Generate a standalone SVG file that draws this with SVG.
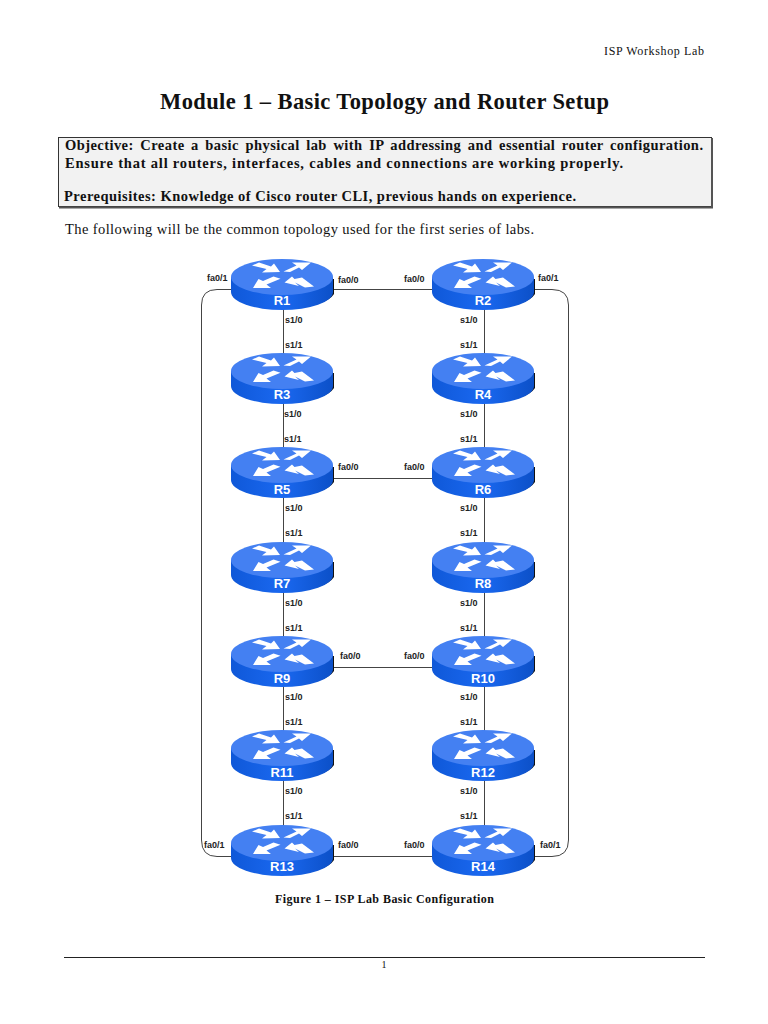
<svg xmlns="http://www.w3.org/2000/svg" width="768" height="1024" viewBox="0 0 768 1024">
<style>
.s{font-family:"Liberation Serif",serif;fill:#111}
.b{font-weight:bold}
.l{font-family:"Liberation Sans",Arial,sans-serif;font-size:9px;font-weight:bold;fill:#222}
.n{font-family:"Liberation Sans",Arial,sans-serif;font-size:13px;font-weight:bold;fill:#fff;text-anchor:middle}
.c{fill:none;stroke:#444;stroke-width:1}
</style>
<defs>
<linearGradient id="side" x1="0" y1="0" x2="1" y2="0"><stop offset="0" stop-color="#0f58d8"/><stop offset=".5" stop-color="#1a68f0"/><stop offset="1" stop-color="#0c50c8"/></linearGradient>
<g id="router">
<path d="M-48,2 V17 A51,18 0 0 0 52,17 V2 Z" fill="#111"/>
<path d="M-51,0 V15 A51,18 0 0 0 51,15 V0 Z" fill="url(#side)"/>
<ellipse cx="0" cy="0" rx="51" ry="18" fill="#4480f2"/>
<g fill="#fff">
<polygon points="-30,-11.500 -23,-14.500 -11,-10.500 -8,-13.500 -2,-5 -20,-4.500 -15.500,-8"/>
<polygon points="1.500,-5.500 8,-5 17,-9.500 20,-7 29,-14.500 10,-14.500 14.500,-11.500"/>
<polygon points="-29,11 -11,11 -15.500,7.500 -1.500,1.700 -8.500,-0.500 -19,4 -23.500,2"/>
<polygon points="2.500,5.500 10,-0.500 12.500,2 20,0.500 32,9.500 23,10.500 13,5.500 17,9"/>
</g>
</g>
</defs>
<g id="page-text">
<text class="s" x="604" y="55" font-size="12" textLength="100">ISP Workshop Lab</text>
<text class="s b" x="160" y="108.500" font-size="22.500" textLength="449">Module 1 – Basic Topology and Router Setup</text>
<rect x="58.500" y="137.500" width="653" height="69" fill="#f2f2f2" stroke="#333" stroke-width="1"/>
<path d="M59,207.500 H712 V138" fill="none" stroke="#555" stroke-width="2"/>
<text class="s b" x="65" y="150" font-size="14.500" word-spacing="2.500" textLength="638">Objective: Create a basic physical lab with IP addressing and essential router configuration.</text>
<text class="s b" x="65" y="168" font-size="14.500" textLength="558">Ensure that all routers, interfaces, cables and connections are working properly.</text>
<text class="s b" x="64" y="201" font-size="14.500" textLength="512">Prerequisites: Knowledge of Cisco router CLI, previous hands on experience.</text>
<text class="s" x="65" y="234" font-size="14.500" textLength="469">The following will be the common topology used for the first series of labs.</text>
<text class="s b" x="275" y="903" font-size="12" textLength="219">Figure 1 – ISP Lab Basic Configuration</text>
<path d="M64,957.500 H705" stroke="#222" stroke-width="1"/>
<text class="s" x="384" y="968" font-size="10" text-anchor="middle">1</text>
</g>
<g id="connectors">
<path class="c" d="M232,289.500 H217 Q201.500,289.500 201.500,305 V840 Q201.500,856.500 217,856.500 H232"/>
<path class="c" d="M533,289.500 H552 Q568.500,289.500 568.500,305 V840 Q568.500,856.500 552,856.500 H533"/>
<path class="c" d="M333,289.500 H432 M333,478.500 H432 M333,667.500 H432 M333,856.500 H432"/>
<path class="c" d="M283.500,305 V830 M484.500,305 V830"/>
</g>
<g id="R1"><use href="#router" x="282" y="277"/><text class="n" x="282" y="305">R1</text></g>
<g id="R2"><use href="#router" x="483" y="277"/><text class="n" x="483" y="305">R2</text></g>
<g id="R3"><use href="#router" x="282" y="371"/><text class="n" x="282" y="399">R3</text></g>
<g id="R4"><use href="#router" x="483" y="371"/><text class="n" x="483" y="399">R4</text></g>
<g id="R5"><use href="#router" x="282" y="465"/><text class="n" x="282" y="494">R5</text></g>
<g id="R6"><use href="#router" x="483" y="465"/><text class="n" x="483" y="494">R6</text></g>
<g id="R7"><use href="#router" x="282" y="560"/><text class="n" x="282" y="588">R7</text></g>
<g id="R8"><use href="#router" x="483" y="560"/><text class="n" x="483" y="588">R8</text></g>
<g id="R9"><use href="#router" x="282" y="654"/><text class="n" x="282" y="683">R9</text></g>
<g id="R10"><use href="#router" x="483" y="654"/><text class="n" x="483" y="683">R10</text></g>
<g id="R11"><use href="#router" x="282" y="748"/><text class="n" x="282" y="777">R11</text></g>
<g id="R12"><use href="#router" x="483" y="748"/><text class="n" x="483" y="777">R12</text></g>
<g id="R13"><use href="#router" x="282" y="843"/><text class="n" x="282" y="871">R13</text></g>
<g id="R14"><use href="#router" x="483" y="843"/><text class="n" x="483" y="871">R14</text></g>
<g id="labels">
<text class="l" x="207" y="281">fa0/1</text><text class="l" x="338" y="283">fa0/0</text><text class="l" x="404" y="282">fa0/0</text><text class="l" x="538" y="281">fa0/1</text>
<text class="l" x="338" y="470">fa0/0</text><text class="l" x="404" y="470">fa0/0</text>
<text class="l" x="340" y="659">fa0/0</text><text class="l" x="404" y="659">fa0/0</text>
<text class="l" x="204" y="848">fa0/1</text><text class="l" x="338" y="848">fa0/0</text><text class="l" x="404" y="848">fa0/0</text><text class="l" x="540" y="848">fa0/1</text>
<text class="l" x="285" y="323">s1/0</text><text class="l" x="285" y="348">s1/1</text><text class="l" x="460" y="323">s1/0</text><text class="l" x="460" y="348">s1/1</text>
<text class="l" x="284" y="417">s1/0</text><text class="l" x="284" y="442">s1/1</text><text class="l" x="460" y="417">s1/0</text><text class="l" x="460" y="442">s1/1</text>
<text class="l" x="285" y="511">s1/0</text><text class="l" x="285" y="536">s1/1</text><text class="l" x="460" y="511">s1/0</text><text class="l" x="460" y="536">s1/1</text>
<text class="l" x="285" y="606">s1/0</text><text class="l" x="285" y="631">s1/1</text><text class="l" x="460" y="606">s1/0</text><text class="l" x="460" y="631">s1/1</text>
<text class="l" x="285" y="700">s1/0</text><text class="l" x="285" y="725">s1/1</text><text class="l" x="460" y="700">s1/0</text><text class="l" x="460" y="725">s1/1</text>
<text class="l" x="285" y="794">s1/0</text><text class="l" x="285" y="819">s1/1</text><text class="l" x="460" y="794">s1/0</text><text class="l" x="460" y="819">s1/1</text>
</g>
</svg>
